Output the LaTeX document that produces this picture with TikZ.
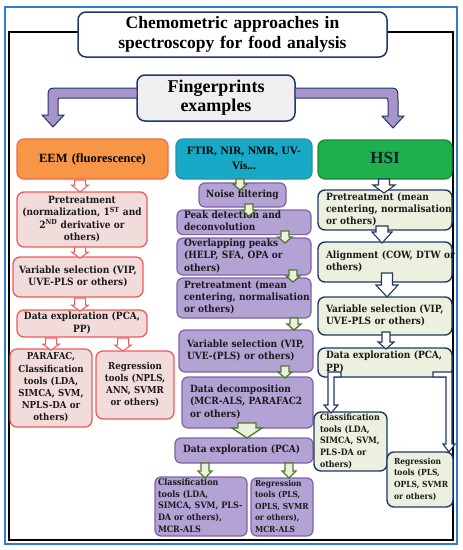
\documentclass[tikz,border=0pt]{standalone}
\usepackage{fontspec}
\setmainfont{Liberation Serif}
\newfontfamily\bodyfont{DejaVu Serif Condensed}
\definecolor{frameblue}{HTML}{2E7CD6}
\definecolor{navy}{HTML}{1F3864}
\definecolor{orangeF}{HTML}{F79646}
\definecolor{orangeB}{HTML}{EE6A4A}
\definecolor{redB}{HTML}{EE5B5B}
\definecolor{pinkF}{HTML}{F2DCDB}
\definecolor{tealF}{HTML}{17A9C6}
\definecolor{tealB}{HTML}{2B8FA8}
\definecolor{purF}{HTML}{B3A2D4}
\definecolor{purB}{HTML}{7E62A8}
\definecolor{grnA}{HTML}{4F7A28}
\definecolor{grnAF}{HTML}{EBF1DE}
\definecolor{hsiF}{HTML}{1DB04B}
\definecolor{hsiB}{HTML}{178A3C}
\definecolor{ltgrn}{HTML}{EBF1DE}
\definecolor{arrowpur}{HTML}{A893CB}
\definecolor{grayF}{HTML}{EFEFEF}
\definecolor{txtc}{HTML}{1A1A1A}
\newcommand\bx[8][4]{%
 \pgfmathsetmacro\bxw{#6-#4}%
 \pgfmathsetmacro\bxh{#7-#5}%
 \pgfmathsetmacro\bxt{#6-#4-2*#1}%
 \node[#3, anchor=north west, outer sep=0pt, inner xsep=#1pt, inner ysep=0pt, align=left,
   minimum width=\bxw pt, minimum height=\bxh pt, text width=\bxt pt] (#2) at (#4,#5)
   {\begin{tabular}{@{}l@{}}#8\end{tabular}};}
\newcommand\bxc[8][4]{%
 \pgfmathsetmacro\bxw{#6-#4}%
 \pgfmathsetmacro\bxh{#7-#5}%
 \pgfmathsetmacro\bxt{#6-#4-2*#1}%
 \node[#3, anchor=north west, outer sep=0pt, inner xsep=#1pt, inner ysep=0pt, align=center,
   minimum width=\bxw pt, minimum height=\bxh pt, text width=\bxt pt] (#2) at (#4,#5)
   {\begin{tabular}{@{}c@{}}#8\end{tabular}};}
\newcommand\barr[7]{%
 \draw[#1] (#2-#5,#3) -- (#2+#5,#3) -- (#2+#5,#4-#7) -- (#2+#6,#4-#7) -- (#2,#4)
   -- (#2-#6,#4-#7) -- (#2-#5,#4-#7) -- cycle;}
\tikzset{
 fs/.style args={#1/#2}{font=\bfseries\fontsize{#1}{#2}\selectfont},
 bs/.style args={#1/#2}{font=\bodyfont\bfseries\fontsize{#1}{#2}\selectfont},
 base/.style={bs=10/12.3, text=txtc},
 titlebox/.style={draw=navy, fill=white, line width=1.5pt, rounded corners=8pt, fs=17.5/20},
 fpbox/.style={draw=navy, fill=grayF, line width=1.5pt, rounded corners=8pt, fs=18/19},
 eembox/.style={draw=orangeB, fill=orangeF, line width=1.2pt, rounded corners=7pt, fs=12.5/15},
 ftirbox/.style={draw=tealB, fill=tealF, line width=1.2pt, rounded corners=7pt, fs=11.3/15},
 hsibox/.style={draw=hsiB, fill=hsiF, line width=1.2pt, rounded corners=7pt, fs=17/20, text=navy!50!black},
 pinkbox/.style={base, draw=redB, fill=pinkF, line width=1.3pt, rounded corners=7pt},
 purbox/.style={base, draw=purB, fill=purF, line width=1.2pt, rounded corners=6pt},
 grnbox/.style={base, draw=navy, fill=ltgrn, line width=1.4pt, rounded corners=7pt},
 pinkarrow/.style={draw=redB, fill=white, line width=1pt},
 grnarrow/.style={draw=grnA, fill=grnAF, line width=1.3pt},
 navyarrow/.style={draw=navy, fill=white, line width=1.1pt},
 bigarrow/.style={draw=navy, fill=arrowpur, line width=1pt},
}
\begin{document}
\begin{tikzpicture}[x=1pt,y=-1pt]
\useasboundingbox (0,0) rectangle (463,550);
% frames
\draw[frameblue, line width=2.5pt] (5,7) rectangle (457,544);
\draw[black, line width=2pt] (9,32) rectangle (453,540);
% title and fingerprints
\bxc{title}{titlebox}{78}{12}{387}{57}{Chemometric approaches in\\spectroscopy for food analysis}
\bxc{fp}{fpbox}{137}{75}{295}{121}{Fingerprints\\examples}
% curved arrows
\draw[bigarrow] (fp.west |- 0,88) -- (60,88) .. controls (48,88) .. (48,100) -- (48,115) -- (42,115)
  -- (53,127) -- (64,115) -- (58,115) -- (58,102) .. controls (58,98) .. (62,98) -- (fp.west |- 0,98) -- cycle;
\draw[bigarrow] (fp.east |- 0,88) -- (386,88) .. controls (398,88) .. (398,100) -- (398,116) -- (404,116)
  -- (393,128) -- (382,116) -- (388,116) -- (388,102) .. controls (388,98) .. (384,98) -- (fp.east |- 0,98) -- cycle;
% headers
\bxc{eem}{eembox}{17}{139}{168}{179}{EEM (fluorescence)}
\bxc{ftir}{ftirbox}{176}{139}{312}{179}{FTIR, NIR, NMR, UV-\\Vis...}
\bxc{hsi}{hsibox}{318}{140}{452}{179}{HSI}
% left column
\bxc{preL}{pinkbox}{17}{192}{147}{247}{Pretreatment\\(normalization, 1\textsuperscript{ST} and\\2\textsuperscript{ND} derivative or\\others)}
\bxc{varL}{pinkbox}{13}{257}{143}{297}{Variable selection (VIP,\\UVE-PLS or others)}
\bxc{expL}{pinkbox}{17}{310}{147}{337}{Data exploration (PCA,\\PP)}
\bxc[3]{clsL}{pinkbox, bs=9.6/12.2}{10}{349}{92}{427}{PARAFAC,\\Classification\\tools (LDA,\\SIMCA, SVM,\\NPLS-DA or\\others)}
\bxc[3]{regL}{pinkbox, bs=9.6/12.2}{96}{351}{174}{419}{Regression\\tools (NPLS,\\ANN, SVMR\\or others)}
% middle column
\bxc{noise}{purbox}{199}{183}{286}{207}{Noise filtering}
\bx[7]{peak}{purbox}{177}{210}{311}{234}{Peak detection and\\deconvolution}
\bx[7]{overl}{purbox}{177}{238}{311}{275}{Overlapping peaks\\(HELP, SFA, OPA or\\others)}
\bx[7]{preM}{purbox}{177}{278}{311}{318}{Pretreatment (mean\\centering, normalisation\\or others)}
\bx[8]{varM}{purbox}{179}{330}{313}{372}{Variable selection (VIP,\\UVE-(PLS) or others)}
\bx[8]{decM}{purbox}{182}{377}{313}{428}{Data decomposition\\(MCR-ALS, PARAFAC2\\or others)}
\bx[8]{expM}{purbox}{175}{438}{313}{463}{Data exploration (PCA)}
\bx[3]{clsM}{purbox, bs=8.9/11.8}{155}{477}{247}{535}{Classification\\tools (LDA,\\SIMCA, SVM, PLS-\\DA or others),\\MCR-ALS}
\bx[4]{regM}{purbox, bs=8.3/11.6}{251}{478}{313}{535}{Regression\\tools (PLS,\\OPLS, SVMR\\or others),\\MCR-ALS}
% right column
\bx[8]{preR}{grnbox}{318}{190}{452}{230}{Pretreatment (mean\\centering, normalisation\\or others)}
\bx[8]{aliR}{grnbox}{318}{242}{452}{282}{Alignment (COW, DTW or\\others)}
\bx[8]{varR}{grnbox}{318}{297}{452}{335}{Variable selection (VIP,\\UVE-PLS or others)}
\bx[8]{expR}{grnbox}{318}{348}{452}{377}{Data exploration (PCA,\\PP)}
\bx[6]{clsR}{grnbox, bs=8.8/11.8}{314}{412}{387}{463}{Classification\\tools (LDA,\\SIMCA, SVM,\\PLS-DA or\\others)}
\bx[7]{regR}{grnbox, bs=8.4/11.8}{387}{452}{453}{507}{Regression\\tools (PLS,\\OPLS, SVMR\\or others)}
% left arrows
\barr{pinkarrow}{80}{180}{192}{5.5}{8.5}{7}
\barr{pinkarrow}{80}{247}{258}{5.5}{8.5}{6}
\barr{pinkarrow}{80}{298}{311}{5.5}{8.5}{6}
\barr{pinkarrow}{51}{338}{350}{5.5}{8.5}{6}
\barr{pinkarrow}{123}{338}{351}{5.5}{8.5}{6}
% middle arrows
\barr{grnarrow}{240}{179}{190}{4}{7}{6}
\barr{grnarrow}{249}{204}{216}{4}{7}{6}
\barr{grnarrow}{285}{231}{243}{4}{7}{6}
\barr{grnarrow}{293}{270}{282}{4}{7}{6}
\barr{grnarrow}{294}{318}{330}{4}{7}{6}
\barr{grnarrow}{285}{366}{378}{4}{7}{6}
\barr{grnarrow}{247}{423}{438}{9}{15}{10}
\barr{grnarrow}{205}{463}{478}{4}{7}{7}
\barr{grnarrow}{289}{463}{478}{4}{7}{7}
% right arrows
\barr{navyarrow}{384}{179}{193}{5.5}{11}{8}
\barr{navyarrow}{382}{226}{243}{6}{10}{11}
\barr{navyarrow}{387}{273}{297}{5.5}{11}{12}
\barr{navyarrow}{386}{332}{349}{4}{8}{7}
\draw[navyarrow] (341,372) -- (328,372) -- (328,405) -- (324,405) -- (331,413) -- (338,405)
  -- (334,405) -- (334,377) -- (341,377) -- cycle;
\draw[navyarrow] (433,372) -- (452,372) -- (452,444) -- (455,444) -- (449,452) -- (443,444)
  -- (446,444) -- (446,377) -- (433,377) -- cycle;
\end{tikzpicture}
\end{document}
